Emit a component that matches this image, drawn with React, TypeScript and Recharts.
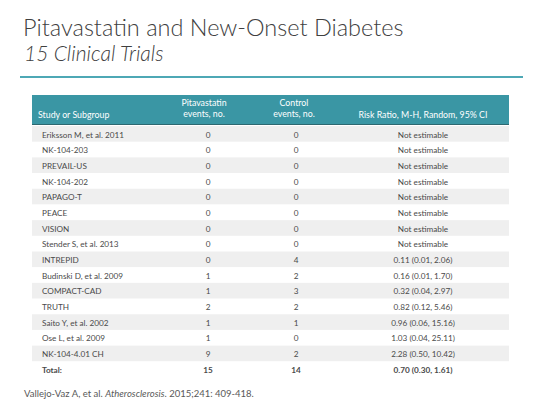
import { BarChart, Bar, XAxis, YAxis } from 'recharts'

// table rows, top to bottom (last one is the pooled total)
const studies = [
  'Eriksson M, et al. 2011',
  'NK-104-203',
  'PREVAIL-US',
  'NK-104-202',
  'PAPAGO-T',
  'PEACE',
  'VISION',
  'Stender S, et al. 2013',
  'INTREPID',
  'Budinski D, et al. 2009',
  'COMPACT-CAD',
  'TRUTH',
  'Saito Y, et al. 2002',
  'Ose L, et al. 2009',
  'NK-104-4.01 CH',
  'Total:',
]
const pitavastatinEvents = [0, 0, 0, 0, 0, 0, 0, 0, 0, 1, 1, 2, 1, 1, 9, 15]
const controlEvents = [0, 0, 0, 0, 0, 0, 0, 0, 4, 2, 3, 2, 1, 0, 2, 14]
const riskRatios = [
  'Not estimable',
  'Not estimable',
  'Not estimable',
  'Not estimable',
  'Not estimable',
  'Not estimable',
  'Not estimable',
  'Not estimable',
  '0.11 (0.01, 2.06)',
  '0.16 (0.01, 1.70)',
  '0.32 (0.04, 2.97)',
  '0.82 (0.12, 5.46)',
  '0.96 (0.06, 15.16)',
  '1.03 (0.04, 25.11)',
  '2.28 (0.50, 10.42)',
  '0.70 (0.30, 1.61)',
]

const rows = studies.map((study, i) => ({
  study,
  band: 1,
  pitavastatin: pitavastatinEvents[i],
  control: controlEvents[i],
  riskRatio: riskRatios[i],
}))

const FONT = 'Lato, "Open Sans", sans-serif'
const TEXT = '#404040'
const TEAL = '#3a96a4'

// one table row: background band + the four cells
// eslint-disable-next-line @typescript-eslint/no-explicit-any
function RowShape(props: any) {
  const { x, y, width, height, payload, index } = props
  const isTotal = index === rows.length - 1
  const cy = y + height / 2 + 0.5
  const common = {
    y: cy,
    dominantBaseline: 'central' as const,
    fontSize: 8.2,
    fontFamily: FONT,
    fill: '#4a4a4a',
    fontWeight: isTotal ? 700 : 400,
  }
  return (
    <g>
      <rect x={x} y={y} width={width} height={height} fill={index % 2 === 0 && !isTotal ? '#efefef' : '#ffffff'} />
      <text {...common} x={x + 10} textAnchor="start">{payload.study}</text>
      <text {...common} x={x + 176} textAnchor="middle">{payload.pitavastatin}</text>
      <text {...common} x={x + 264} textAnchor="middle">{payload.control}</text>
      <text {...common} x={x + 391} textAnchor="middle">{payload.riskRatio}</text>
    </g>
  )
}

const headStyle: React.CSSProperties = {
  position: 'absolute',
  color: '#fff',
  fontFamily: FONT,
  fontSize: 8.8,
  lineHeight: '11px',
  textAlign: 'center',
  whiteSpace: 'nowrap',
}

export default function App() {
  return (
    <div style={{ position: 'absolute', left: 0, top: 0, width: 540, height: 405, background: '#fff', overflow: 'hidden' }}>
      <div style={{ position: 'absolute', left: 23, top: 13, fontFamily: FONT, fontWeight: 300, fontSize: 23.5, color: TEXT, whiteSpace: 'nowrap', lineHeight: '28px' }}>
        Pitavastatin and New-Onset Diabetes
      </div>
      <div style={{ position: 'absolute', left: 24, top: 40, fontFamily: FONT, fontWeight: 300, fontStyle: 'italic', fontSize: 21, color: TEXT, whiteSpace: 'nowrap', lineHeight: '26px' }}>
        15 Clinical Trials
      </div>
      <div style={{ position: 'absolute', left: 20, top: 76, width: 503, height: 1.5, background: '#4ea8b5' }} />

      {/* table header */}
      <div style={{ position: 'absolute', left: 32, top: 95, width: 477, height: 29, background: TEAL, borderBottom: '1.5px solid #2d6870' }} />
      <div style={{ ...headStyle, left: 38, top: 109, textAlign: 'left' }}>Study or Subgroup</div>
      <div style={{ ...headStyle, left: 164, width: 80, top: 97 }}>Pitavastatin<br />events, no.</div>
      <div style={{ ...headStyle, left: 254, width: 80, top: 97 }}>Control<br />events, no.</div>
      <div style={{ ...headStyle, left: 338, width: 170, top: 109 }}>Risk Ratio, M-H, Random, 95% CI</div>

      <div style={{ position: 'absolute', left: 0, top: 0 }}>
        <BarChart
          layout="vertical"
          width={540}
          height={405}
          data={rows}
          margin={{ top: 126, right: 31, bottom: 28, left: 32 }}
          barCategoryGap={0}
        >
          <XAxis type="number" domain={[0, 1]} hide />
          <YAxis type="category" dataKey="study" hide width={0} />
          <Bar dataKey="band" isAnimationActive={false} shape={RowShape} />
        </BarChart>
      </div>

      <div style={{ position: 'absolute', left: 24, top: 388, fontFamily: FONT, fontSize: 9.5, color: '#595959', whiteSpace: 'nowrap', lineHeight: '12px' }}>
        Vallejo-Vaz A, et al. <i>Atherosclerosis</i>. 2015;241: 409-418.
      </div>
    </div>
  )
}
